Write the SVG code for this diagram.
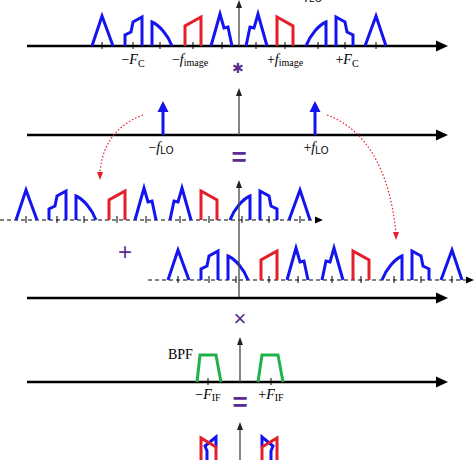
<svg xmlns="http://www.w3.org/2000/svg" xmlns:xlink="http://www.w3.org/1999/xlink" width="474" height="460" viewBox="0 0 474 460">
<style>
.ax{stroke:#000;stroke-width:2.6;fill:none}
.axd{stroke:#000;stroke-width:1.2;fill:none;stroke-dasharray:4 3}
.vax{stroke:#444;stroke-width:1.3;fill:none}
.ah{fill:#000}
.vah{fill:#222}
.b{stroke:#1414f0;stroke-width:3;fill:none;stroke-linejoin:miter}
.r{stroke:#e3202a;stroke-width:3;fill:none}
.g{stroke:#1fb24a;stroke-width:3;fill:none}
.tk{stroke:#000;stroke-width:1;fill:none}
.lbl{font-family:"Liberation Serif",serif;font-size:14px;fill:#000}
.sub{font-size:10px;font-style:normal}
.op{font-family:"Liberation Sans",sans-serif;fill:#5b2c8f;text-anchor:middle}
.dot{stroke:#e3202a;stroke-width:1.2;fill:none;stroke-dasharray:1.5 2}
</style>
<defs>
<g id="half">
<path class="b" d="M92,46 L102,16 L113,46"/>
<path class="b" d="M125,46 V35 L131,32 L133,22 L142,17 V46"/>
<path class="b" d="M152,46 V22 C159,25 168,35 172,46"/>
<path class="r" d="M185,46 V26 L201,17 V46"/>
<path class="b" d="M211,46 L220,14 L224,28 L228,27 L232,46"/>
<path class="tk" d="M102,42 V49 M133,42 V49 M160,42 V49 M193,42 V49 M222,42 V49"/>
</g>
<g id="spec">
<use xlink:href="#half"/>
<use xlink:href="#half" transform="translate(478,0) scale(-1,1)"/>
</g>
</defs>

<g id="panel1">
<line class="ax" x1="27" y1="46" x2="437" y2="46"/>
<polygon class="ah" points="448,46 436,40.5 436,51.5"/>
<line class="vax" x1="239" y1="46" x2="239" y2="6"/>
<polygon class="vah" points="239,0 236,8 242,8"/>
<use xlink:href="#spec"/>
<text class="lbl" x="305" y="-1"><tspan font-style="italic">f</tspan><tspan class="sub" font-family="Liberation Sans, sans-serif" dy="3">LO</tspan></text>
<text class="lbl" x="133" y="64" text-anchor="middle">−<tspan font-style="italic">F</tspan><tspan class="sub" font-style="italic" dy="3">C</tspan></text>
<text class="lbl" x="190" y="64" text-anchor="middle">−<tspan font-style="italic">f</tspan><tspan class="sub" dy="2">image</tspan></text>
<text class="lbl" x="285" y="64" text-anchor="middle">+<tspan font-style="italic">f</tspan><tspan class="sub" dy="2">image</tspan></text>
<text class="lbl" x="347" y="64" text-anchor="middle">+<tspan font-style="italic">F</tspan><tspan class="sub" font-style="italic" dy="3">C</tspan></text>
<text class="op" x="238" y="73" font-size="14" font-family="DejaVu Sans, sans-serif">✱</text>
</g>

<g id="panel2">
<line class="ax" x1="27" y1="135" x2="437" y2="135"/>
<polygon class="ah" points="448,135 436,129.5 436,140.5"/>
<line class="vax" x1="239" y1="135" x2="239" y2="94"/>
<polygon class="vah" points="239,88 236,96 242,96"/>
<line class="b" x1="163" y1="135" x2="163" y2="110"/>
<polygon fill="#1414f0" points="163,101 157.5,112 168.5,112"/>
<line class="b" x1="315" y1="135" x2="315" y2="110"/>
<polygon fill="#1414f0" points="315,101 309.5,112 320.5,112"/>
<text class="lbl" x="161" y="152" text-anchor="middle">−<tspan font-style="italic">f</tspan><tspan class="sub" font-family="Liberation Sans, sans-serif" dy="2">LO</tspan></text>
<text class="lbl" x="316" y="152" text-anchor="middle">+<tspan font-style="italic">f</tspan><tspan class="sub" font-family="Liberation Sans, sans-serif" dy="2">LO</tspan></text>
<text class="op" x="239" y="166" font-size="26" font-weight="bold">=</text>
</g>

<g id="connectors">
<path class="dot" d="M143,115 Q103,130 100,173"/>
<polygon fill="#e3202a" points="100,180 97,172 103,172"/>
<path class="dot" d="M327,115 Q386,137 396,233"/>
<polygon fill="#e3202a" points="396,240 393,232 399,232"/>
</g>

<g id="panel3">
<line class="axd" x1="0" y1="220" x2="316" y2="220"/>
<polygon class="ah" points="323,220 315,216.5 315,223.5"/>
<use xlink:href="#spec" transform="translate(-76,174)"/>
<line class="axd" x1="148" y1="280" x2="466" y2="280"/>
<polygon class="ah" points="474,280 466,276.5 466,283.5"/>
<use xlink:href="#spec" transform="translate(76,234)"/>
<line class="vax" x1="239" y1="298" x2="239" y2="186"/>
<polygon class="vah" points="239,180 236,188 242,188"/>
<line class="ax" x1="27" y1="298" x2="437" y2="298"/>
<polygon class="ah" points="448,298 436,292.5 436,303.5"/>
<text class="op" x="125" y="260" font-size="24">+</text>
</g>

<g id="panel4">
<text class="op" x="240" y="326" font-size="22">×</text>
<line class="ax" x1="27" y1="382" x2="437" y2="382"/>
<polygon class="ah" points="448,382 436,376.5 436,387.5"/>
<line class="vax" x1="240" y1="382" x2="240" y2="343"/>
<polygon class="vah" points="240,337 237,345 243,345"/>
<path class="g" d="M197,382 L200,355 H216 L221,382"/>
<path class="g" d="M258,382 L262,355 H278 L283,382"/>
<path class="tk" d="M208,378 V385 M271,378 V385"/>
<text class="lbl" x="168" y="359" font-size="13">BPF</text>
<text class="lbl" x="208" y="399" text-anchor="middle">−<tspan font-style="italic">F</tspan><tspan class="sub" dy="2">IF</tspan></text>
<text class="lbl" x="271" y="399" text-anchor="middle">+<tspan font-style="italic">F</tspan><tspan class="sub" dy="2">IF</tspan></text>
<text class="op" x="240" y="411" font-size="26" font-weight="bold">=</text>
</g>

<g id="panel5">
<line class="vax" x1="240" y1="460" x2="240" y2="428"/>
<polygon class="vah" points="240,422 237,430 243,430"/>
<g id="ifL">
<path class="b" d="M216,447 V437 L205,446 L207,451 V460"/>
<path class="r" d="M201,460 V438 L216,447 V460"/>
</g>
<use xlink:href="#ifL" transform="translate(478,0) scale(-1,1)"/>
</g>
</svg>
